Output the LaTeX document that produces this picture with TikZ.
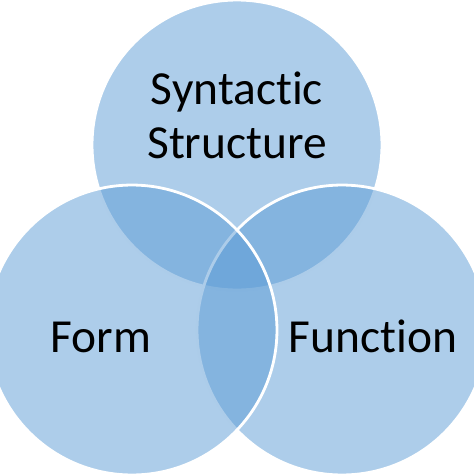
\documentclass[tikz,border=0pt]{standalone}
\usepackage{fontspec}
\setmainfont[Ligatures=NoCommon]{Carlito}
\usepackage{tikz}
\usetikzlibrary{positioning}

\definecolor{vennblue}{RGB}{91,155,213}

\begin{document}
\begin{tikzpicture}
            [x=0.02cm, y=-0.02cm,
            venn/.style={circle, inner sep=0pt, minimum size=5.8cm, fill=vennblue, fill opacity=0.5, draw=white, line width=1.6pt},
            label/.style={font=\fontsize{27}{30.7}\selectfont, text=black, align=center, inner sep=0pt}]

            \clip (0,0) rectangle (474,474);

            \node[venn] (syn) at (237,145) {};
            \node[venn] (func) at (342,330) {};
            \node[venn] (form) at (132,330) {};

            \node[label] (synlabel) at (237,115) {Syntactic\\Structure};
            \node[label, anchor=base] (formlabel) at (101,352) {Form};
            \node[label, anchor=base] (funclabel) at (373,352) {Function};

        \end{tikzpicture}
\end{document}
